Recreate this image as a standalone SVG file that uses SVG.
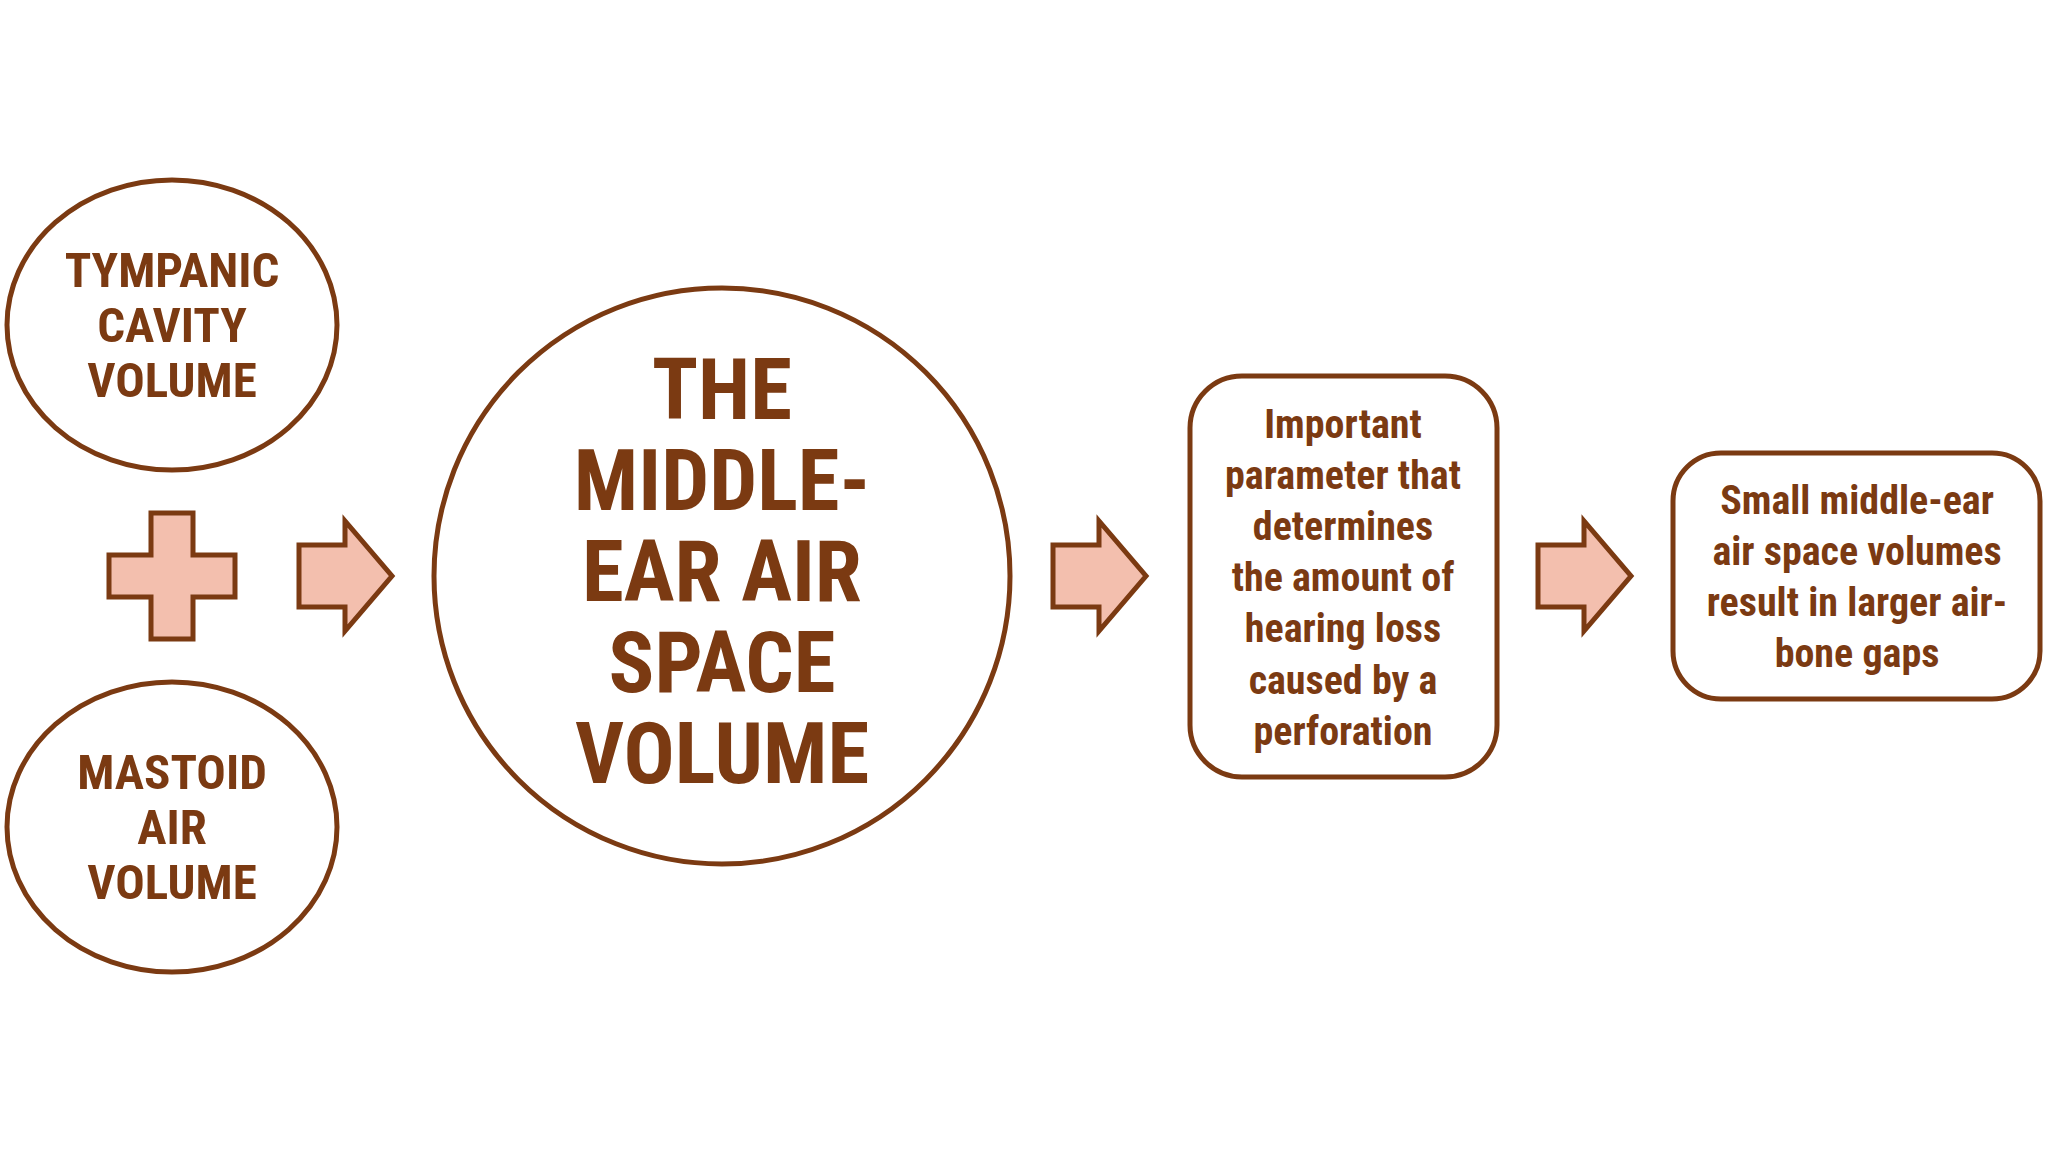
<svg xmlns="http://www.w3.org/2000/svg" width="2048" height="1152" viewBox="0 0 2048 1152">
<style>
.s{fill:#fff;stroke:#7b3a12;stroke-width:5}
.a{fill:#f3bfae;stroke:#7b3a12;stroke-width:5;stroke-linejoin:miter}
text{font-family:"Liberation Sans Narrow","Roboto Condensed","Liberation Sans",sans-serif;font-weight:bold;fill:#7b3a12;text-anchor:middle}
.m{font-size:49px}.b{font-size:85px}.t{font-size:40px}
</style>
<rect width="2048" height="1152" fill="#fff"/>
<g id="tympanic"><ellipse class="s" cx="172" cy="325" rx="165" ry="145"/>
<text class="m" x="172" y="287">TYMPANIC</text><text class="m" x="172" y="342">CAVITY</text><text class="m" x="172" y="397">VOLUME</text></g>
<g id="mastoid"><ellipse class="s" cx="172" cy="827" rx="165" ry="145"/>
<text class="m" x="172" y="789">MASTOID</text><text class="m" x="172" y="844">AIR</text><text class="m" x="172" y="899">VOLUME</text></g>
<g id="plus"><path class="a" d="M151,513H193V555H235V597H193V639H151V597H109V555H151Z"/></g>
<g id="middle"><circle class="s" cx="722" cy="576" r="288"/>
<text class="b" x="722" y="419">THE</text><text class="b" x="722" y="510">MIDDLE-</text><text class="b" x="722" y="601">EAR AIR</text><text class="b" x="722" y="692">SPACE</text><text class="b" x="722" y="783">VOLUME</text></g>
<g id="param"><rect class="s" x="1190" y="376" width="307" height="401" rx="52"/>
<text class="t" x="1343" y="438">Important</text><text class="t" x="1343" y="489">parameter that</text><text class="t" x="1343" y="540">determines</text><text class="t" x="1343" y="591">the amount of</text><text class="t" x="1343" y="642">hearing loss</text><text class="t" x="1343" y="694">caused by a</text><text class="t" x="1343" y="745">perforation</text></g>
<g id="result"><rect class="s" x="1673" y="453" width="367" height="246" rx="48"/>
<text class="t" x="1857" y="514">Small middle-ear</text><text class="t" x="1857" y="565">air space volumes</text><text class="t" x="1857" y="616">result in larger air-</text><text class="t" x="1857" y="667">bone gaps</text></g>
<g id="connectors">
<path class="a" d="M299,545H345V521L392,576L345,631V607H299Z"/>
<path class="a" d="M1053,545H1099V521L1146,576L1099,631V607H1053Z"/>
<path class="a" d="M1538,545H1584V521L1631,576L1584,631V607H1538Z"/>
</g>
</svg>
